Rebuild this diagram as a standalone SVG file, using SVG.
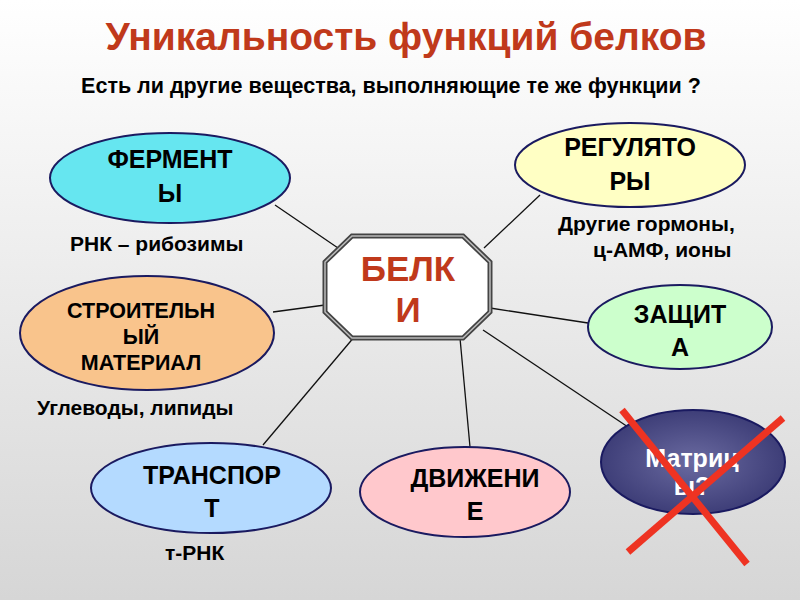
<svg xmlns="http://www.w3.org/2000/svg" width="800" height="600" viewBox="0 0 800 600">
<defs>
<linearGradient id="bg" x1="0" y1="0" x2="0" y2="1"><stop offset="0" stop-color="#ffffff"/><stop offset="1" stop-color="#d6d6d6"/></linearGradient>
<radialGradient id="mg"><stop offset="0" stop-color="#6a6aa0"/><stop offset="1" stop-color="#3e3e78"/></radialGradient>
<style>
.e{stroke:#1a1a60;stroke-width:2}
.t{font-family:"Liberation Sans",Arial,sans-serif;font-weight:bold;font-size:25px;text-anchor:middle;fill:#000}
.s{font-family:"Liberation Sans",Arial,sans-serif;font-weight:bold;font-size:21px;fill:#000}
.c{stroke:#111;stroke-width:1.3;fill:none}
</style>
</defs>
<rect width="800" height="600" fill="url(#bg)"/>
<text x="406" y="50" text-anchor="middle" style="font-family:'Liberation Sans',Arial,sans-serif;font-weight:bold;font-size:39px;fill:#c0391b">Уникальность функций белков</text>
<text x="391" y="93" text-anchor="middle" class="s" style="font-size:21.5px">Есть ли другие вещества, выполняющие те же функции ?</text>
<g id="connectors" class="c">
<line x1="275" y1="205" x2="338" y2="248"/>
<line x1="540" y1="195" x2="484" y2="248"/>
<line x1="273" y1="312" x2="325" y2="305"/>
<line x1="588" y1="323" x2="490" y2="308"/>
<line x1="263" y1="445" x2="355" y2="336"/>
<line x1="470" y1="447" x2="460" y2="338"/>
<line x1="634" y1="431" x2="483" y2="330"/>
</g>
<g id="center">
<polygon points="352,236 463,236 490,262 490,312 463,338 352,338 325,312 325,262" fill="#fff" stroke="#444" stroke-width="5"/>
<polygon points="352,236 463,236 490,262 490,312 463,338 352,338 325,312 325,262" fill="none" stroke="#bbb" stroke-width="1.5"/>
<text x="408" y="281" text-anchor="middle" style="font-family:'Liberation Sans',Arial,sans-serif;font-weight:bold;font-size:35px;fill:#c0391b">БЕЛК</text>
<text x="408" y="322" text-anchor="middle" style="font-family:'Liberation Sans',Arial,sans-serif;font-weight:bold;font-size:35px;fill:#c0391b">И</text>
</g>
<g id="fermenty"><ellipse cx="170" cy="178" rx="120" ry="45" fill="#66e6f0" class="e"/><text class="t" x="170" y="168">ФЕРМЕНТ</text><text class="t" x="170" y="202">Ы</text><text class="s" x="70" y="251">РНК – рибозимы</text></g>
<g id="regulyatory"><ellipse cx="630" cy="165" rx="115" ry="42" fill="#ffffc4" class="e"/><text class="t" x="630" y="156">РЕГУЛЯТО</text><text class="t" x="630" y="190">РЫ</text><text class="s" x="558" y="231">Другие гормоны,</text><text class="s" x="593" y="257">ц-АМФ, ионы</text></g>
<g id="stroitelny"><ellipse cx="147" cy="333" rx="127" ry="57" fill="#f9c48c" class="e"/><text class="t" x="141" y="318" style="font-size:21.5px">СТРОИТЕЛЬН</text><text class="t" x="141" y="344" style="font-size:21.5px">ЫЙ</text><text class="t" x="141" y="370" style="font-size:21.5px">МАТЕРИАЛ</text><text class="s" x="37" y="415">Углеводы, липиды</text></g>
<g id="zashchita"><ellipse cx="680" cy="327" rx="92" ry="42" fill="#ccffcc" class="e"/><text class="t" x="680" y="323">ЗАЩИТ</text><text class="t" x="680" y="356">А</text></g>
<g id="transport"><ellipse cx="211" cy="488" rx="120" ry="45" fill="#b4daff" class="e"/><text class="t" x="212" y="484">ТРАНСПОР</text><text class="t" x="212" y="517">Т</text><text class="s" x="165" y="560">т-РНК</text></g>
<g id="dvizhenie"><ellipse cx="465" cy="492" rx="105" ry="45" fill="#ffc8cc" class="e"/><text class="t" x="475" y="487">ДВИЖЕНИ</text><text class="t" x="475" y="520">Е</text></g>
<g id="matritsy"><ellipse cx="693" cy="462" rx="92" ry="52" fill="url(#mg)" class="e"/><text class="t" x="692" y="467" style="fill:#fff">Матриц</text><text class="t" x="692" y="495" style="fill:#fff">ы?</text>
<line x1="622" y1="410" x2="747" y2="564" stroke="#ee3322" stroke-width="7"/><line x1="783" y1="418" x2="628" y2="552" stroke="#ee3322" stroke-width="7"/></g>
</svg>
